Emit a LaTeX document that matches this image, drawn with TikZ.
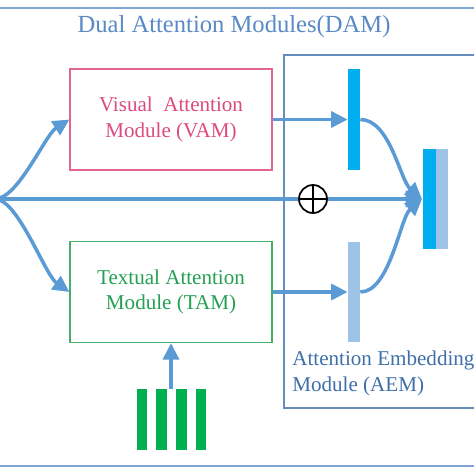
\documentclass[tikz,border=0pt]{standalone}
\usepackage{fontspec}
\setmainfont{Liberation Serif}
\usetikzlibrary{arrows.meta}
\definecolor{flowblue}{HTML}{5B9BD5}
\definecolor{frameblue}{HTML}{7FA6D6}
\definecolor{titleblue}{HTML}{5A8AC6}
\definecolor{aemblue}{HTML}{3F6FA9}
\definecolor{vampink}{HTML}{DC4A80}
\definecolor{tamgreen}{HTML}{23A053}
\definecolor{barcyan}{HTML}{00AEEF}
\definecolor{barlight}{HTML}{9DC3E6}
\definecolor{wordgreen}{HTML}{00B050}
\tikzset{
  flow/.style={line width=2pt,flowblue,-{Triangle[length=0.33cm,width=0.32cm]}},
  modbox/.style={draw,line width=0.7pt,minimum width=4.04cm,minimum height=2.02cm,
    align=center,font=\fontsize{12}{14.5}\selectfont},
  featbar/.style={inner sep=0pt,minimum width=0.24cm,minimum height=2.02cm},
  wordbar/.style={fill=wordgreen,inner sep=0pt,minimum width=0.22cm,minimum height=1.22cm}
}
\begin{document}
\begin{tikzpicture}[x=0.02cm,y=-0.02cm]
  \useasboundingbox (0,0) rectangle (474,474);
  \clip (0,0) rectangle (474,474);
  % frames
  \draw[frameblue,line width=0.7pt] (-10,8) rectangle (484,466);
  \draw[aemblue!80,line width=0.7pt] (284,55) rectangle (490,408);
  \node[titleblue,font=\fontsize{14}{16}\selectfont] (dam) at (234,27) {Dual Attention Modules(DAM)};
  \node[aemblue,anchor=north west,align=left,inner sep=0pt,font=\fontsize{12}{14.5}\selectfont]
    (aem) at (292,351) {Attention Embedding\\Module (AEM)};

  % modules
  \node[modbox,draw=vampink!85,text=vampink] (vam) at (171,119.5) {Visual\ \ Attention\\Module (VAM)};
  \node[modbox,draw=tamgreen!85,text=tamgreen] (tam) at (171,292) {Textual Attention\\Module (TAM)};

  % features
  \node[featbar,fill=barcyan] (vbar) at (354,119.5) {};
  \node[featbar,fill=barlight] (tbar) at (354,292) {};
  \node[inner sep=0pt,minimum width=0.26cm,minimum height=2cm,fill=barcyan] (catv) at (429.5,199) {};
  \node[inner sep=0pt,minimum width=0.24cm,minimum height=2cm,fill=barlight] (catt) at (442,199) {};
  \foreach \i/\x in {1/142,2/161.5,3/181.5,4/201}
    \node[wordbar] (w\i) at (\x,419.5) {};

  \coordinate (fork) at (-5,199);
  \coordinate (join) at (422,199);
  \coordinate (wtop) at (171,389);

  \node[draw,circle,fill=white,line width=1pt,minimum size=0.56cm,inner sep=0pt] (oplus) at (313,199) {};

  % connectors
  \draw[flow] (fork) .. controls (18,199) and (45,135) .. (vam.west);
  \draw[flow] (fork) .. controls (18,199) and (45,275) .. (tam.west);
  \draw[flow,-] (fork) -- (oplus.west);
  \draw[flow] (oplus.east) -- (join);
  \draw[line width=1pt] (oplus.north) -- (oplus.south) (oplus.west) -- (oplus.east);
  \draw[flow] (vam) -- (vbar);
  \draw[flow] (tam) -- (tbar);
  \draw[flow] (vbar.east) .. controls (390,119.5) and (400,180) .. (join);
  \draw[flow] (tbar.east) .. controls (390,292) and (400,218) .. (join);
  \draw[flow] (wtop) -- (tam.south);
\end{tikzpicture}
\end{document}
